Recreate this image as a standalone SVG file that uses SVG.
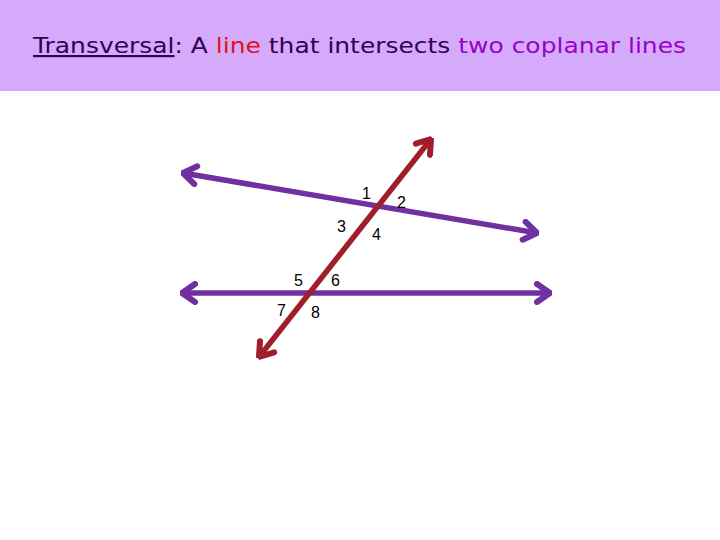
<svg xmlns="http://www.w3.org/2000/svg" width="720" height="540" viewBox="0 0 720 540">
<defs>
<style>
.lbl{font-family:"Liberation Sans",Arial,sans-serif;font-size:16px;fill:#000}
.title{font-family:"DejaVu Sans","Liberation Sans",sans-serif;font-size:22px}
</style>
<marker id="ap" viewBox="-20 -12 22 24" markerWidth="22" markerHeight="24" refX="0" refY="0" markerUnits="userSpaceOnUse" orient="auto-start-reverse">
<path d="M-13,-9 L0,0 L-13,9" fill="none" stroke="#7030A0" stroke-width="6" stroke-linecap="round" stroke-linejoin="round"/>
</marker>
<marker id="ar" viewBox="-20 -12 22 24" markerWidth="22" markerHeight="24" refX="0" refY="0" markerUnits="userSpaceOnUse" orient="auto-start-reverse">
<path d="M-13,-9 L0,0 L-13,9" fill="none" stroke="#A01E2A" stroke-width="6" stroke-linecap="round" stroke-linejoin="round"/>
</marker>
</defs>
<rect x="0" y="0" width="720" height="540" fill="#fff"/>
<rect x="0" y="0" width="720" height="91" fill="#D5AAFA"/>
<g id="title">
<text class="title" x="33" y="53" textLength="653" lengthAdjust="spacingAndGlyphs"><tspan fill="#33005A" text-decoration="underline">Transversal</tspan><tspan fill="#33005A">: A </tspan><tspan fill="#E0101A">line</tspan><tspan fill="#33005A"> that intersects </tspan><tspan fill="#9900CC">two coplanar lines</tspan></text>
</g>
<g id="connectors">
<line id="line-top" x1="183" y1="173" x2="537" y2="233" stroke="#7030A0" stroke-width="5.5" marker-start="url(#ap)" marker-end="url(#ap)"/>
<line id="line-bottom" x1="182" y1="293" x2="550" y2="293" stroke="#7030A0" stroke-width="5.5" marker-start="url(#ap)" marker-end="url(#ap)"/>
<line id="transversal" x1="431" y1="139" x2="259" y2="357" stroke="#A01E2A" stroke-width="5.5" marker-start="url(#ar)" marker-end="url(#ar)"/>
</g>
<g id="labels">
<text class="lbl" x="362" y="199">1</text>
<text class="lbl" x="397" y="208">2</text>
<text class="lbl" x="337" y="232">3</text>
<text class="lbl" x="372" y="240">4</text>
<text class="lbl" x="294" y="286">5</text>
<text class="lbl" x="331" y="286">6</text>
<text class="lbl" x="277" y="316">7</text>
<text class="lbl" x="311" y="318">8</text>
</g>
</svg>
